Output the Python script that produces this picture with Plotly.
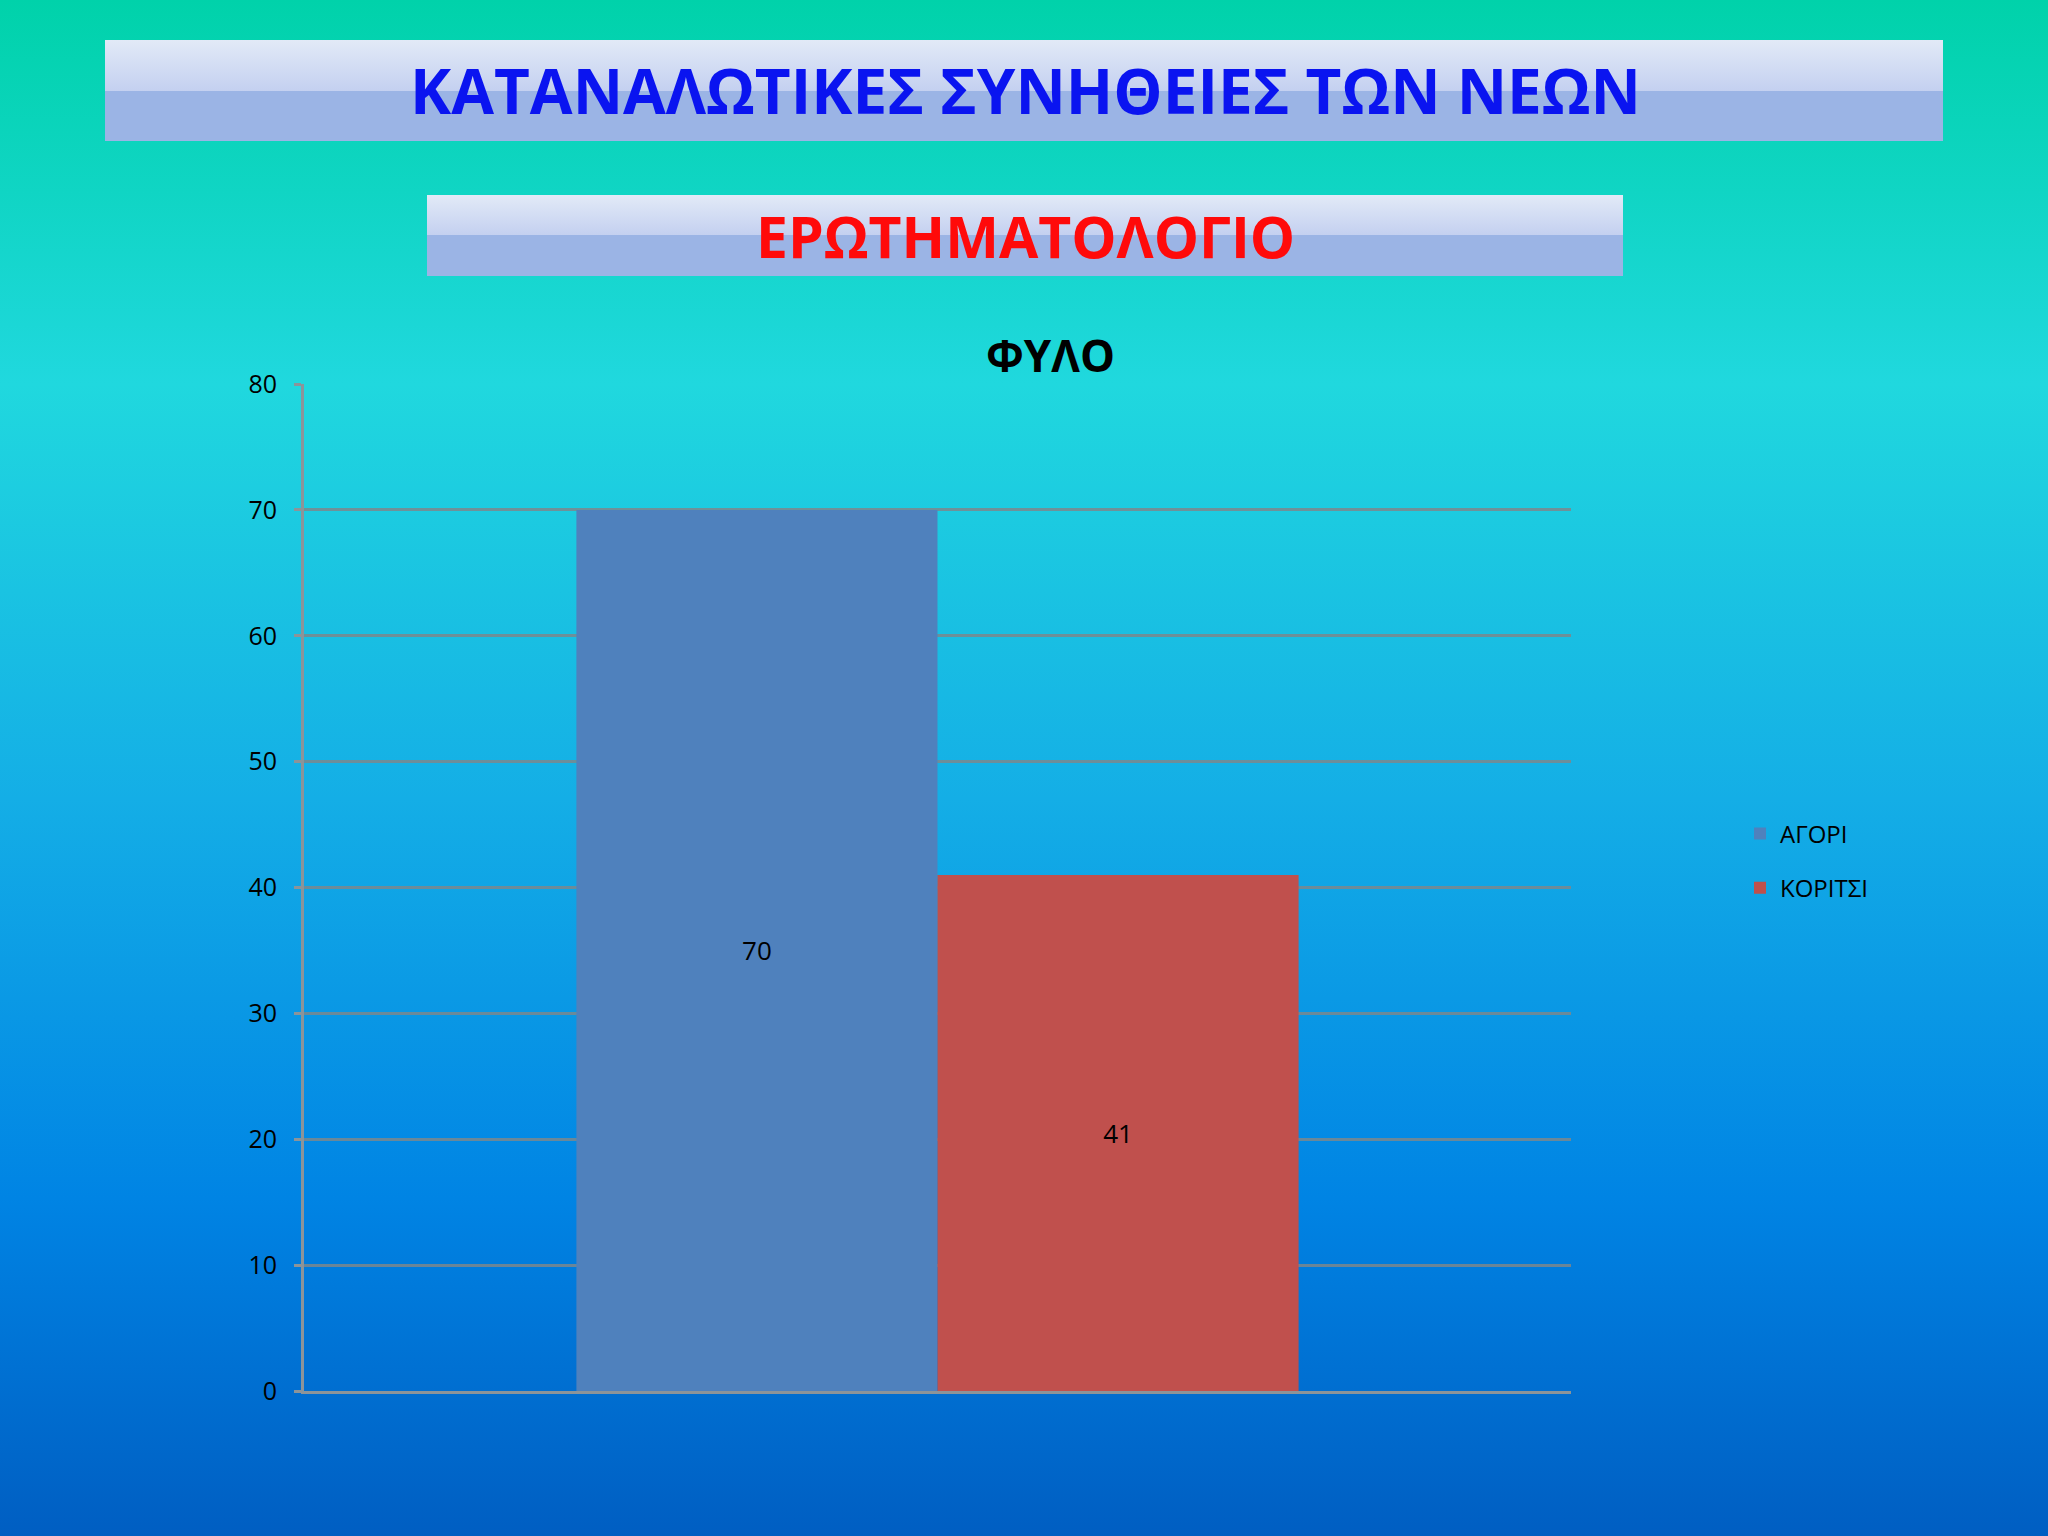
import base64
import plotly.graph_objects as go

# data
categories = ["ΑΓΟΡΙ", "ΚΟΡΙΤΣΙ"]
values = [70, 41]
bar_colors = ["#4F81BD", "#C0504D"]
y_ticks = [0, 10, 20, 30, 40, 50, 60, 70, 80]

W, H = 2048, 1536
L, R, T, B = 304, 477, 384, 145
PW, PH = W - L - R, H - T - B


def px(x, y):
    # pixel position on the page -> paper coords
    return (x - L) / PW, (H - B - y) / PH


# slide background and the two banner boxes, drawn as one svg
svg = f"""<svg xmlns='http://www.w3.org/2000/svg' width='{W}' height='{H}' viewBox='0 0 {W} {H}' preserveAspectRatio='none'>
<defs>
<linearGradient id='bg' x1='0' y1='0' x2='0' y2='1'>
<stop offset='0' stop-color='#00D2AA'/>
<stop offset='0.25' stop-color='#20D8DE'/>
<stop offset='0.52' stop-color='#14AEE6'/>
<stop offset='0.78' stop-color='#0084E4'/>
<stop offset='1' stop-color='#005EC2'/>
</linearGradient>
<linearGradient id='hi' x1='0' y1='0' x2='0' y2='1'>
<stop offset='0' stop-color='#E2EAF7'/>
<stop offset='1' stop-color='#C4D0F0'/>
</linearGradient>
</defs>
<rect x='0' y='0' width='{W}' height='{H}' fill='url(#bg)'/>
<rect x='105' y='40' width='1838' height='51' fill='url(#hi)'/>
<rect x='105' y='91' width='1838' height='50' fill='#9BB4E5'/>
<rect x='427' y='195' width='1196' height='40' fill='url(#hi)'/>
<rect x='427' y='235' width='1196' height='41' fill='#9BB4E5'/>
</svg>"""
svg_uri = "data:image/svg+xml;base64," + base64.b64encode(svg.encode()).decode()

fig = go.Figure()
for i, (name, val) in enumerate(zip(categories, values)):
    fig.add_trace(go.Bar(
        x=["ΦΥΛΟ"], y=[val], name=name,
        marker=dict(color=bar_colors[i], line=dict(width=0)),
        text=[val], textposition="inside", insidetextanchor="middle",
        textangle=0, textfont=dict(color="black", size=26),
        legendgroup=name,
    ))

x0, y0 = px(0, 0)
x1, y1 = px(W, H)
fig.add_layout_image(dict(
    source=svg_uri, xref="paper", yref="paper",
    x=x0, y=y0, sizex=x1 - x0, sizey=y0 - y1,
    xanchor="left", yanchor="top", sizing="stretch", layer="below",
))


def label(x, y, text, size, color):
    ax, ay = px(x, y)
    fig.add_annotation(x=ax, y=ay, xref="paper", yref="paper", showarrow=False,
                       xanchor="center", yanchor="middle", text=text,
                       font=dict(family="Open Sans", size=size, color=color))


label(1025, 90, "<b>ΚΑΤΑΝΑΛΩΤΙΚΕΣ ΣΥΝΗΘΕΙΕΣ ΤΩΝ ΝΕΩΝ</b>", 62, "#0A14F0")
label(1025, 236, "<b>ΕΡΩΤΗΜΑΤΟΛΟΓΙΟ</b>", 57, "#FF0A0A")
label(1050, 355, "<b>ΦΥΛΟ</b>", 44, "black")

lx, ly = px(1740, 861)
fig.update_layout(
    width=W, height=H,
    margin=dict(l=L, r=R, t=T, b=B),
    paper_bgcolor="rgba(0,0,0,0)",
    plot_bgcolor="rgba(0,0,0,0)",
    barmode="group", bargap=0.43, bargroupgap=0,
    font=dict(family="Open Sans", color="black"),
    showlegend=True,
    legend=dict(x=lx, y=ly, xanchor="left", yanchor="middle",
                font=dict(size=24, color="black"), bgcolor="rgba(0,0,0,0)",
                tracegroupgap=20, itemwidth=30),
    xaxis=dict(showticklabels=False, showgrid=False, zeroline=False,
               showline=True, linecolor="#8C9499", linewidth=3, ticks=""),
    yaxis=dict(range=[0, 80], tickvals=y_ticks, showgrid=True,
               gridcolor="rgba(125,135,140,0.85)", gridwidth=2.5,
               zeroline=False, showline=True, linecolor="#8C9499", linewidth=3,
               ticks="outside", ticklen=7, tickcolor="#8C9499", tickwidth=2.5,
               tickfont=dict(size=25, color="black"), ticklabelstandoff=12),
)

fig.write_html("out.html", config={"displayModeBar": False},
               post_script="document.body.style.margin='0';")
